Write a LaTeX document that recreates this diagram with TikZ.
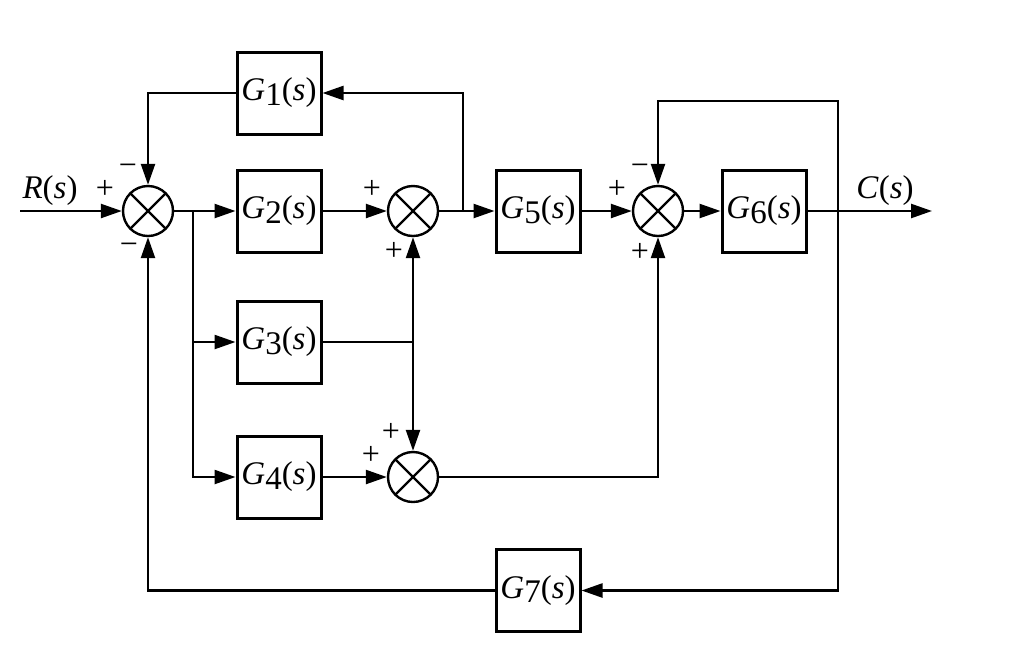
\documentclass[tikz,border=0pt]{standalone}
\usepackage{fontspec}
\setmainfont{Liberation Serif}
\usetikzlibrary{arrows.meta}
\newcommand{\gs}[1]{\textit{G}\raisebox{-0.3ex}{#1}(\textit{s})}
\begin{document}
\begin{tikzpicture}[x=1pt,y=-1pt, line width=2.4pt,
  blk/.style={draw, line width=3pt, minimum width=84pt, minimum height=82pt, inner sep=0pt,
    font=\fontsize{33}{36}\selectfont},
  sumj/.style={draw, circle, minimum size=50pt, inner sep=0pt,
    path picture={\draw[line width=2.4pt] (path picture bounding box.south west) -- (path picture bounding box.north east)
      (path picture bounding box.north west) -- (path picture bounding box.south east);}},
  arr/.style={-{Triangle[length=21pt,width=14pt]}},
  sgn/.style={font=\fontsize{32}{34}\selectfont, inner sep=0pt},
  lbl/.style={font=\fontsize{33}{36}\selectfont, inner sep=0pt}]
\useasboundingbox (0,0) rectangle (1024,657);
% blocks
\node[blk] (G1) at (279,93) {\gs{1}};
\node[blk] (G2) at (279,211) {\gs{2}};
\node[blk] (G3) at (279,342) {\gs{3}};
\node[blk] (G4) at (279,477) {\gs{4}};
\node[blk] (G5) at (538,211) {\gs{5}};
\node[blk] (G6) at (764,211) {\gs{6}};
\node[blk] (G7) at (538,590.5) {\gs{7}};
% summing junctions
\node[sumj] (S1) at (148,211) {};
\node[sumj] (S2) at (413,211) {};
\node[sumj] (S3) at (658,211) {};
\node[sumj] (S4) at (413,477) {};
% coordinates
\coordinate (in) at (20,211);
\coordinate (out) at (932,211);
\coordinate (b1) at (193,211);
\coordinate (b2) at (463,211);
\coordinate (b3) at (838,211);
\coordinate (j3) at (413,342);
\coordinate (top) at (838,101);
% connectors
\draw[arr] (in) -- (S1.west);
\draw[arr] (S1.east) -- (G2.west);
\draw[arr] (b1) |- (G3.west);
\draw[arr] (b1) |- (G4.west);
\draw[arr] (G1.west) -| (S1.north);
\draw[arr] (G2.east) -- (S2.west);
\draw[arr] (S2.east) -- (G5.west);
\draw[arr] (b2) |- (G1.east);
\draw (G3.east) -- (j3);
\draw[arr] (j3) -- (S2.south);
\draw[arr] (j3) -- (S4.north);
\draw[arr] (G4.east) -- (S4.west);
\draw[arr] (S4.east) -| (S3.south);
\draw[arr] (G5.east) -- (S3.west);
\draw[arr] (S3.east) -- (G6.west);
\draw[arr] (G6.east) -- (out);
\draw[arr] (b3) -- (top) -| (S3.north);
\draw[arr] (b3) |- (G7.east);
\draw[arr] (G7.west) -| (S1.south);
% labels
\node[lbl] (R) at (50,191) {\textit{R}(\textit{s})};
\node[lbl] (C) at (885,191) {\textit{C}(\textit{s})};
\node[sgn] at (105,189) {+};
\node[sgn] at (128,170) {−};
\node[sgn] at (129,249) {−};
\node[sgn] at (372,189) {+};
\node[sgn] at (394,251) {+};
\node[sgn] at (617,189) {+};
\node[sgn] at (640,170) {−};
\node[sgn] at (640,252) {+};
\node[sgn] at (391,432) {+};
\node[sgn] at (371,455) {+};
\end{tikzpicture}
\end{document}
